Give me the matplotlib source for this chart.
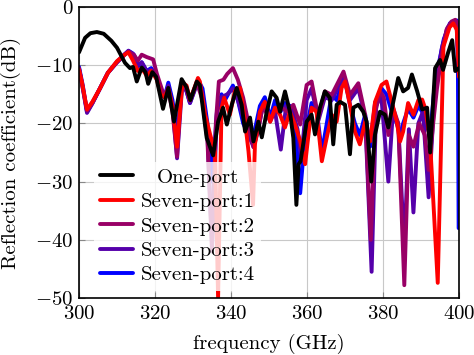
import matplotlib
matplotlib.use("Agg")
import matplotlib.pyplot as plt

plt.rcParams['font.family'] = 'serif'
plt.rcParams['font.serif'] = ['cmr10', 'DejaVu Serif']
plt.rcParams['mathtext.fontset'] = 'cm'
plt.rcParams['axes.formatter.use_mathtext'] = True

# ---------------- data ----------------
labels = ["One-port", "Seven-port:1", "Seven-port:2", "Seven-port:3", "Seven-port:4"]
colors = ["#000000", "#ff0000", "#990066", "#5500aa", "#0000ff"]

f_one = [300, 301.6, 303, 304.7, 306.5, 308.5, 310, 312.1, 313.4, 314.2, 315.2, 316.5, 317.5, 318.2,
         319.3, 320.3, 322.1, 323.5, 325, 327, 328.3, 329.3, 331, 331.8, 333.6, 335.3, 336.6, 337.9,
         338.9, 340.2, 341.5, 342.8, 343.7, 345, 345.9, 347.2, 348.1, 349.4, 350.7, 352, 352.9, 354.2,
         355.5, 356.4, 357.2, 357.8, 358.3, 359.9, 361.2, 362.1, 363.4, 364.7, 366, 366.9, 367.8,
         368.7, 370, 371.3, 372.2, 373.5, 374.8, 375.7, 376.9, 377.9, 379.2, 380.5, 381.4, 382.7, 384,
         385.3, 386.6, 387.6, 389, 390.3, 391.6, 392.4, 393.7, 395, 395.8, 397.1, 398.2, 399, 400]
db_one = [-7.8, -5.3, -4.5, -4.3, -4.6, -5.8, -7.0, -9.6, -10.5, -10.3, -12.8, -10.4, -11.2, -13.2,
          -11.2, -12.0, -17.5, -13.9, -19.7, -12.4, -13.8, -16.0, -12.8, -13.4, -22.5, -25.5, -19.7, -17.3,
          -20.2, -16.8, -13.9, -16.8, -21.4, -19.0, -23.1, -19.7, -22.4, -18.0, -14.5, -15.6, -18.0, -14.5,
          -18.0, -22.5, -34.0, -27.0, -26.5, -19.7, -18.5, -21.9, -17.3, -14.5, -15.6, -23.6, -16.8,
          -16.3, -16.8, -25.3, -17.3, -16.8, -18.0, -19.7, -30.0, -21.9, -18.0, -18.5, -20.7, -16.3, -12.2,
          -14.5, -13.9, -11.6, -14.5, -17.6, -17.3, -25.0, -10.5, -9.1, -10.8, -7.9, -5.7, -11.0, -10.5]

f_s1 = [300, 300.8, 302.1, 303.5, 305.5, 307.6, 310, 312, 313, 314.2, 315.5, 316.5, 317.8, 319, 320.5,
        321.5, 322.5, 323.5, 324.6, 325.8, 327.2, 328.3, 329.2, 331.3, 331.8, 333.2, 334.5, 335.8, 336.6,
        337.5, 338.2, 339.7, 341, 342.4, 343.7, 344.6, 345.8, 346.3, 347.6, 348.9, 350.3, 351.6, 352.9,
        354.2, 355.5, 356.8, 358.2, 359.5, 361.2, 362.5, 363.9, 365.2, 366.5, 367.8, 369.1, 370, 371.3,
        372.6, 373.9, 375.3, 376.6, 377.9, 379.6, 380.9, 382.3, 383.6, 384.5, 385.3, 386.6, 388, 389.3,
        390.3, 391.2, 392.4, 394.4, 395.9, 397.5, 398.5, 399.4, 400]
db_s1 = [-10.8, -13.0, -17.6, -16.3, -14.0, -11.3, -9.3, -8.2, -7.8, -9.2, -11.0, -10.5, -11.8, -11.0, -12.5,
         -15.0, -15.5, -14.0, -17.0, -24.0, -13.0, -13.5, -16.0, -12.2, -12.8, -18.5, -21.9, -25.0, -50.0,
         -17.3, -15.6, -18.5, -14.5, -13.9, -19.7, -24.8, -34.0, -23.6, -18.0, -16.3, -19.7, -17.3, -18.5,
         -20.7, -18.0, -20.2, -23.0, -27.0, -17.3, -18.0, -26.5, -22.4, -18.5, -19.7, -13.9, -12.8, -16.8,
         -21.4, -23.6, -19.7, -23.1, -16.3, -13.4, -12.8, -16.3, -19.7, -23.1, -21.4, -16.5, -18.5, -16.0,
         -15.9, -17.6, -23.3, -47.4, -6.8, -3.5, -2.8, -3.9, -12.0]

f_s2 = [300, 301, 302.1, 303.5, 305.5, 307.6, 310, 312, 313, 314.5, 315.5, 316.5, 317.8, 319.5, 320.5,
        321.5, 322.5, 323.5, 324.6, 325.8, 327, 328.3, 329.2, 331, 332.5, 333.8, 335, 336, 336.8, 338,
        339, 340.5, 341.8, 343.2, 344.5, 345.9, 347.1, 348.4, 350.3, 351.8, 353.3, 354.8, 356.4, 358.2,
        359.9, 361.2, 363, 364.7, 366.5, 369.6, 371.3, 373.5, 375.3, 376.8, 378, 379.2, 380.2, 381.4,
        382.5, 384, 385.6, 386.8, 388, 389.5, 391, 392, 393.2, 394.2, 395.5, 396.7, 398, 399, 399.6, 400]
db_s2 = [-10.5, -14.0, -17.8, -16.5, -14.0, -11.3, -9.5, -8.2, -7.6, -8.3, -9.2, -8.2, -8.6, -9.0, -11.5,
         -13.5, -15.5, -14.3, -18.0, -25.7, -13.0, -14.0, -16.0, -13.0, -16.0, -23.0, -42.0, -20.0, -12.8,
         -12.5, -11.5, -10.5, -12.5, -15.6, -19.7, -24.1, -21.4, -16.8, -19.7, -17.5, -17.3, -18.0, -16.8,
         -20.2, -13.4, -12.8, -19.0, -14.5, -15.1, -11.1, -15.1, -13.1, -18.5, -40.0, -18.0, -14.5, -15.5,
         -22.0, -17.0, -20.0, -47.8, -22.0, -24.0, -20.0, -22.0, -28.0, -20.0, -14.0, -8.0, -3.9, -2.5,
         -2.2, -3.0, -5.0]

f_s3 = [300, 301, 302.1, 303.5, 305.5, 307.6, 310, 312, 313, 314.5, 315.5, 316.5, 317.8, 319, 320.5,
        321.5, 322.5, 323.5, 324.6, 325.8, 327.2, 328.3, 329.2, 331.3, 332.5, 333.8, 335, 336.3, 337.5,
        339, 340.5, 341.8, 343.2, 344.6, 345.9, 347.1, 348.4, 350.3, 351.6, 353.1, 354.5, 356, 357.5,
        358.5, 359.9, 361.2, 363, 364.7, 366.5, 369.6, 371.3, 373.5, 375.3, 377, 378.2, 379.5, 381.4,
        382.6, 384, 385.6, 386.8, 388, 389.3, 390.5, 392, 393.3, 394.3, 395.5, 397, 398.5, 399.3, 399.8,
        400]
db_s3 = [-10.6, -14.0, -18.2, -16.6, -14.0, -11.3, -9.4, -8.1, -7.6, -8.2, -10.0, -9.5, -11.0, -10.8, -12.0,
         -14.5, -15.5, -13.5, -17.0, -26.0, -13.0, -14.5, -16.5, -12.8, -15.0, -22.0, -41.0, -18.0, -15.5,
         -15.0, -14.0, -16.0, -19.0, -22.0, -24.0, -21.0, -17.0, -19.0, -18.0, -24.5, -17.0, -17.5, -21.0,
         -26.0, -16.0, -14.0, -19.5, -15.5, -16.0, -12.0, -16.0, -14.0, -19.0, -45.5, -17.0, -15.0, -30.0,
         -18.0, -20.0, -41.6, -21.0, -35.3, -20.0, -18.0, -32.7, -18.0, -12.0, -7.0, -3.5, -2.5, -2.5, -8.0,
         -10.0]

f_s4 = [300, 301, 302.1, 303.5, 305.5, 307.6, 310, 312, 313, 314.2, 315.5, 316.5, 317.8, 319, 320.5,
        321.5, 322.5, 323.5, 324.6, 325.8, 327.2, 328.3, 329.2, 331.3, 332.5, 333.8, 335, 336.3, 337.5,
        338.4, 340.5, 341.8, 343.2, 344.6, 346.3, 347.6, 348.9, 350.3, 351.6, 353, 354.2, 355.5, 356.8,
        358.2, 359.5, 361.2, 362.5, 363.9, 365.2, 366.5, 367.8, 369.3, 370.3, 371.3, 372.6, 373.9, 375.3,
        376.6, 377.9, 379.6, 380.9, 382.3, 383.6, 384.5, 385.3, 386.6, 388, 389.3, 390.3, 391.2, 392.4,
        393.5, 394.5, 396, 397.6, 399.4, 399.7, 399.9, 400]
db_s4 = [-10.3, -13.5, -18.0, -16.5, -14.0, -11.3, -9.5, -8.2, -7.5, -8.0, -10.2, -9.5, -11.0, -10.5, -12.0,
         -14.5, -15.5, -13.0, -16.0, -22.0, -13.0, -14.5, -16.5, -12.5, -14.0, -20.0, -30.0, -18.0, -15.0,
         -16.0, -13.5, -16.0, -20.0, -22.0, -21.0, -17.0, -15.5, -19.0, -16.0, -18.0, -16.5, -17.0, -20.0,
         -32.0, -22.0, -16.5, -17.5, -25.0, -20.0, -15.0, -16.0, -13.0, -13.5, -16.8, -20.0, -22.0, -18.5,
         -24.0, -16.5, -14.0, -15.0, -18.0, -20.0, -22.0, -20.0, -17.5, -19.0, -17.0, -18.0, -20.0, -22.0,
         -14.0, -10.3, -5.5, -2.8, -2.3, -10.0, -38.0, -38.0]

x_ticks = [300, 320, 340, 360, 380, 400]
y_ticks = [-50, -40, -30, -20, -10, 0]

# ---------------- plot ----------------
FS = 15
fig = plt.figure(figsize=(4.74, 3.55), dpi=100)
ax = fig.add_axes([0.1667, 0.1606, 0.8017, 0.8197])

series = [(f_one, db_one), (f_s1, db_s1), (f_s2, db_s2), (f_s3, db_s3), (f_s4, db_s4)]
zorders = [6, 5, 4, 3, 2]
handles = []
for (fx, dy), lab, col, z in zip(series, labels, colors, zorders):
    h, = ax.plot(fx, dy, color=col, lw=2.8, label=lab, zorder=z,
                 solid_joinstyle='round', solid_capstyle='round')
    handles.append(h)

ax.set_xlim(300, 400)
ax.set_ylim(-50, 0)
ax.set_xticks(x_ticks)
ax.set_yticks(y_ticks)
ax.grid(True, color='#c8c8c8', lw=0.8)
ax.set_axisbelow(True)
ax.tick_params(direction='in', length=4, width=0.8, color='#888888', labelsize=FS, pad=4)
ax.tick_params(axis='x', pad=5)
for s in ax.spines.values():
    s.set_linewidth(1.2)
    s.set_zorder(10)

ax.set_xlabel("frequency (GHz)", fontsize=FS, labelpad=8)
ax.set_ylabel("Reflection coefficient(dB)", fontsize=FS)
ax.yaxis.set_label_coords(-0.152, 0.5)

leg = ax.legend(handles=handles, loc='lower left', bbox_to_anchor=(0.02, 0.0),
                fontsize=FS, frameon=True, framealpha=0.8, edgecolor='none',
                facecolor='white', fancybox=False, handlelength=1.6, handletextpad=0.35,
                labelspacing=0.28, borderpad=0.3, borderaxespad=0.35)
leg.set_zorder(8)
for line in leg.get_lines():
    line.set_linewidth(2.8)

# centre the legend labels like the original (pgfplots cell align=center)
fig.canvas.draw()
renderer = fig.canvas.get_renderer()
texts = leg.get_texts()
widths = [t.get_window_extent(renderer).width for t in texts]
wmax = max(widths)
for t, w in zip(texts, widths):
    t.set_x((wmax - w) / 2.0)

fig.savefig("out.png", dpi=100)
